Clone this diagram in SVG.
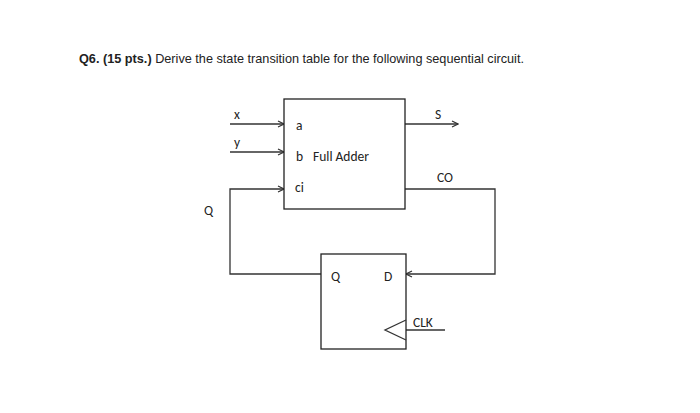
<svg xmlns="http://www.w3.org/2000/svg" width="700" height="413" viewBox="0 0 700 413">
<style>
text{font-family:"Liberation Sans",Arial,sans-serif;fill:#222}
.t{font-size:12.7px}
.l{font-size:13.5px;font-family:Calibri,"Carlito","Liberation Sans",sans-serif}
.w{fill:none;stroke:#333;stroke-width:1.3}
.b{fill:#fff;stroke:#222;stroke-width:1.3}
</style>
<defs><marker id="a" markerWidth="8" markerHeight="8" refX="7" refY="4" orient="auto" markerUnits="userSpaceOnUse"><path d="M1,1 L7,4 L1,7" fill="none" stroke="#333" stroke-width="1.2"/></marker></defs>
<rect width="700" height="413" fill="#fff"/>
<text class="t" x="79" y="63"><tspan font-weight="bold">Q6. (15 pts.)</tspan> Derive the state transition table for the following sequential circuit.</text>
<g id="connectors">
<path class="w" d="M230,124 H284" marker-end="url(#a)"/>
<path class="w" d="M230,152 H284" marker-end="url(#a)"/>
<path class="w" d="M321,274 H230 V189 H284" marker-end="url(#a)"/>
<path class="w" d="M405,124 H458" marker-end="url(#a)"/>
<path class="w" d="M405,189 H495 V274 H406" marker-end="url(#a)"/>
<path class="w" d="M406,330 H445"/>
</g>
<g id="fulladder">
<rect class="b" x="284" y="99" width="121" height="110"/>
<text class="l" x="296" y="130">a</text>
<text class="l" x="296" y="161">b</text>
<text class="l" x="313" y="161">Full Adder</text>
<text class="l" x="295" y="192">ci</text>
</g>
<g id="dff">
<rect class="b" x="321" y="254" width="85" height="95"/>
<text class="l" x="331" y="281">Q</text>
<text class="l" x="384" y="281">D</text>
<path class="w" d="M406,320 L385,330 L406,340"/>
</g>
<g id="labels">
<text class="l" x="234" y="119">x</text>
<text class="l" x="234" y="147">y</text>
<text class="l" x="204" y="215">Q</text>
<text class="l" x="435" y="119">S</text>
<text class="l" x="437" y="182">CO</text>
<text class="l" x="413" y="327">CLK</text>
</g>
</svg>
